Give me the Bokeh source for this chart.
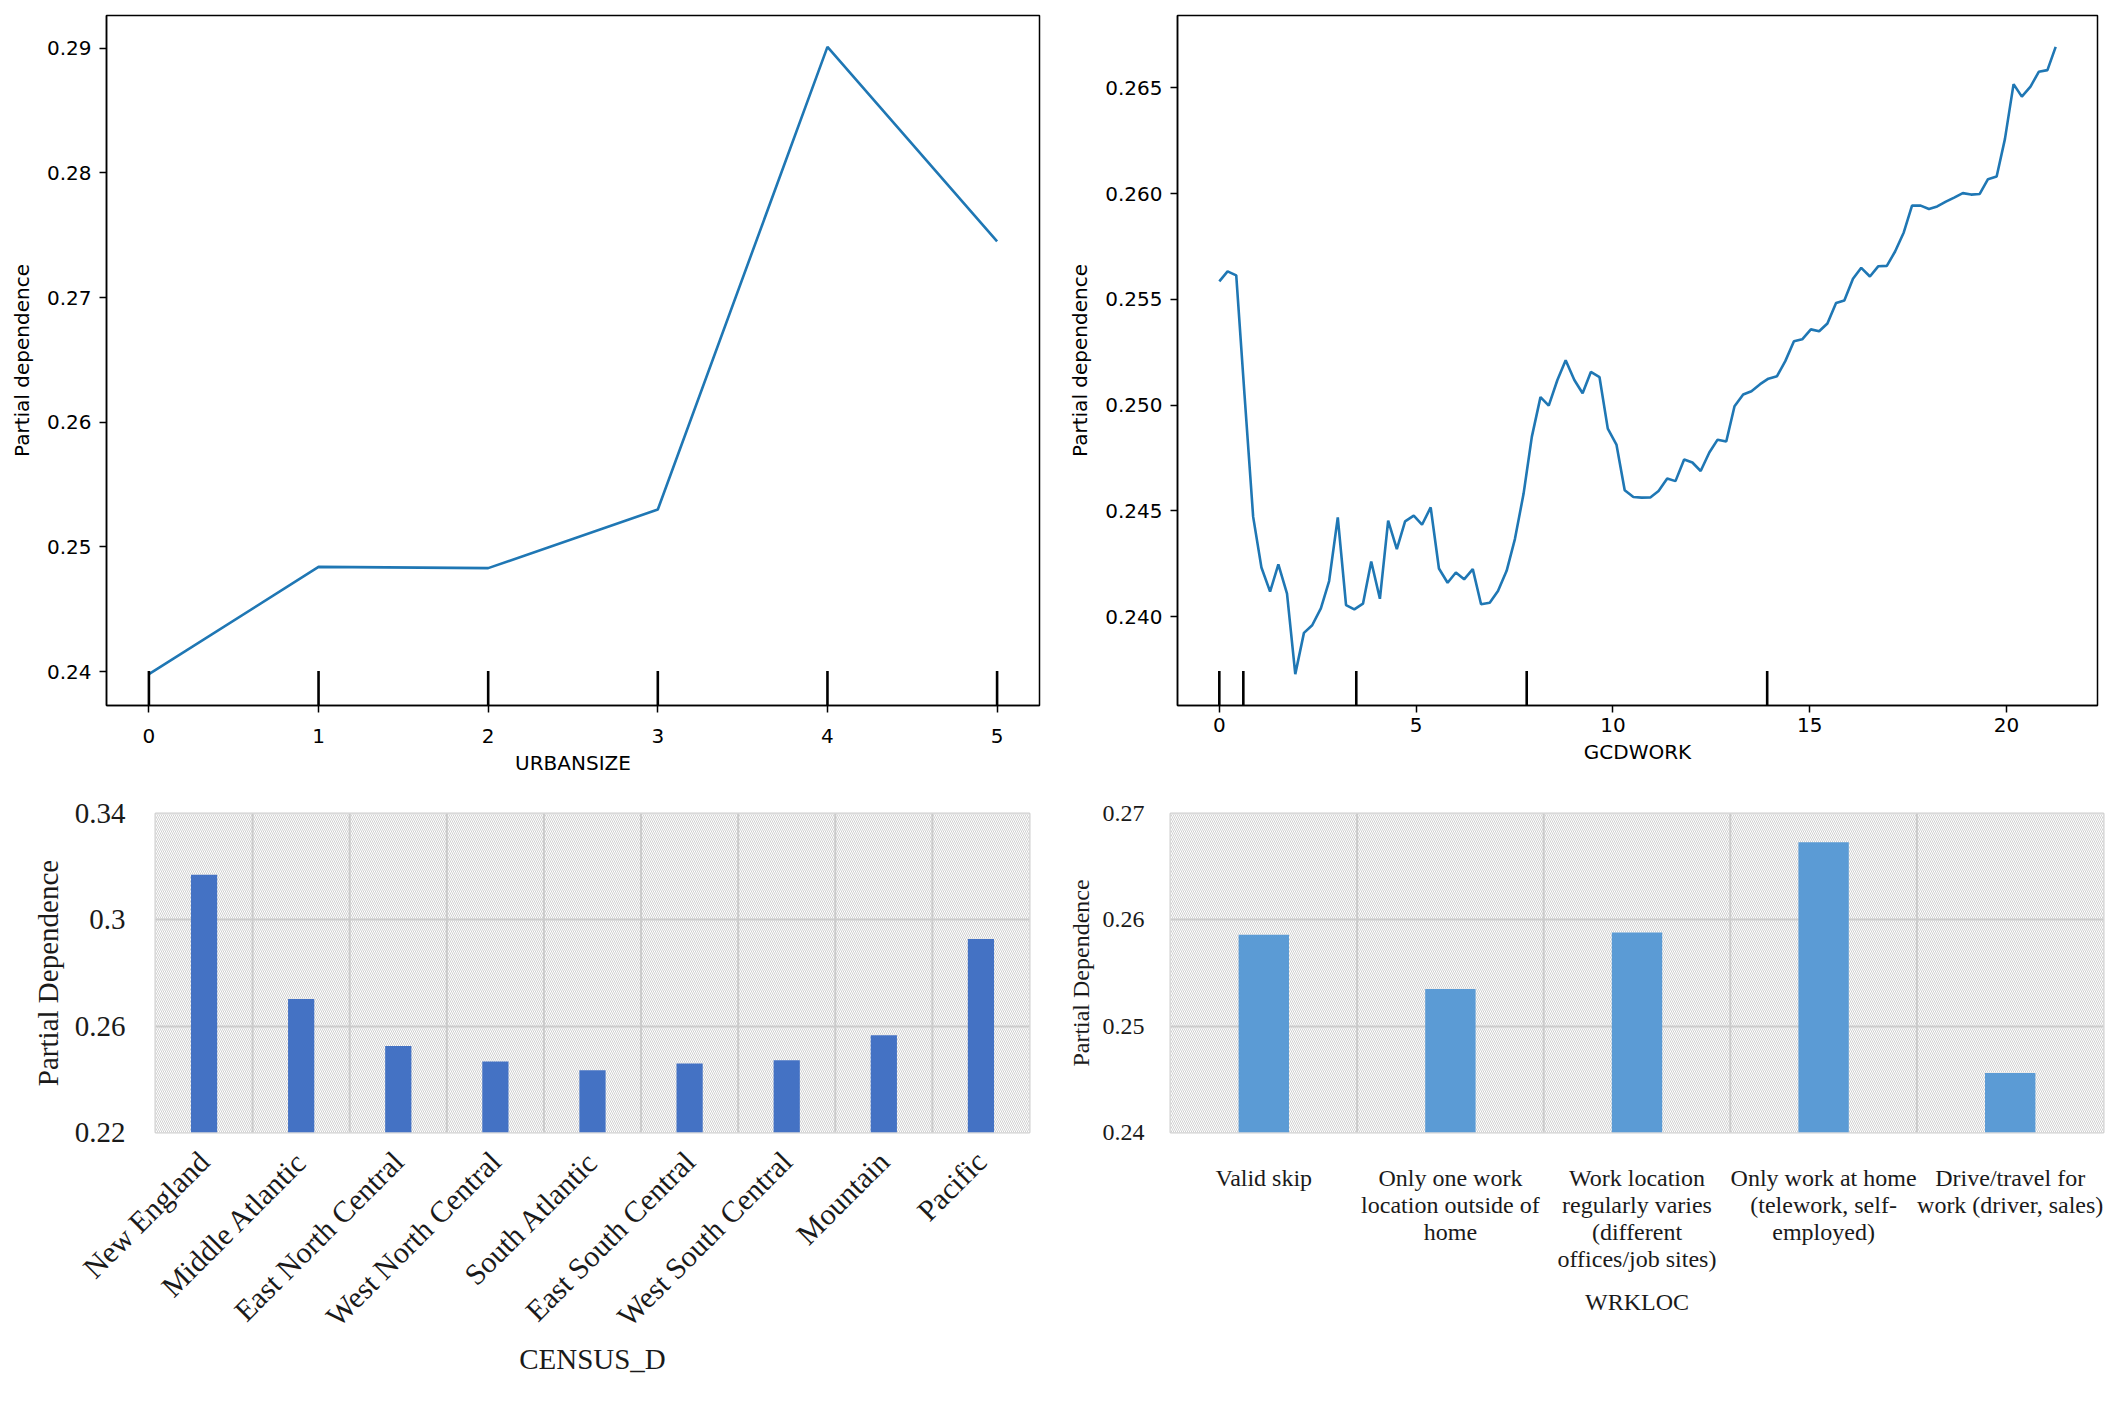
import math

from bokeh.embed import file_html
from bokeh.layouts import column, row
from bokeh.models import (BoxAnnotation, FactorRange, FixedTicker,
                          NumeralTickFormatter, Range1d, Span)
from bokeh.plotting import figure
from bokeh.resources import INLINE

# ---- partial dependence on URBANSIZE ----
urbansize_x = [0, 1, 2, 3, 4, 5]
urbansize_pd = [0.2398, 0.2484, 0.2483, 0.2530, 0.2901, 0.2745]
urbansize_deciles = [0, 1, 2, 3, 4, 5]

# ---- partial dependence on GCDWORK (100-point grid) ----
gcdwork_x = [
    0.00, 0.21, 0.43, 0.64, 0.86, 1.07, 1.29, 1.50, 1.72, 1.93,
    2.15, 2.36, 2.58, 2.79, 3.01, 3.22, 3.43, 3.65, 3.86, 4.08,
    4.29, 4.51, 4.72, 4.94, 5.15, 5.37, 5.58, 5.80, 6.01, 6.22,
    6.44, 6.65, 6.87, 7.08, 7.30, 7.51, 7.73, 7.94, 8.16, 8.37,
    8.59, 8.80, 9.02, 9.23, 9.44, 9.66, 9.87, 10.09, 10.30, 10.52,
    10.73, 10.95, 11.16, 11.38, 11.59, 11.81, 12.02, 12.23, 12.45, 12.66,
    12.88, 13.09, 13.31, 13.52, 13.74, 13.95, 14.17, 14.38, 14.60, 14.81,
    15.03, 15.24, 15.45, 15.67, 15.88, 16.10, 16.31, 16.53, 16.74, 16.96,
    17.17, 17.39, 17.60, 17.82, 18.03, 18.24, 18.46, 18.67, 18.89, 19.10,
    19.32, 19.53, 19.75, 19.96, 20.18, 20.39, 20.61, 20.82, 21.04, 21.25,
]
gcdwork_pd = [
    0.25585, 0.25632, 0.25613, 0.25050, 0.24472, 0.24233, 0.24119, 0.24248, 0.24109, 0.23729,
    0.23924, 0.23960, 0.24040, 0.24169, 0.24470, 0.24055, 0.24035, 0.24062, 0.24261, 0.24085,
    0.24454, 0.24320, 0.24451, 0.24478, 0.24435, 0.24517, 0.24228, 0.24161, 0.24209, 0.24177,
    0.24225, 0.24059, 0.24066, 0.24122, 0.24217, 0.24367, 0.24581, 0.24850, 0.25038, 0.24998,
    0.25119, 0.25212, 0.25119, 0.25056, 0.25157, 0.25132, 0.24889, 0.24814, 0.24598, 0.24566,
    0.24563, 0.24564, 0.24594, 0.24653, 0.24641, 0.24743, 0.24729, 0.24689, 0.24776, 0.24837,
    0.24828, 0.24995, 0.25050, 0.25066, 0.25099, 0.25125, 0.25137, 0.25208, 0.25302, 0.25311,
    0.25358, 0.25349, 0.25386, 0.25483, 0.25495, 0.25597, 0.25649, 0.25608, 0.25656, 0.25658,
    0.25726, 0.25816, 0.25943, 0.25943, 0.25927, 0.25939, 0.25962, 0.25981, 0.26002, 0.25995,
    0.25998, 0.26068, 0.26080, 0.26257, 0.26517, 0.26458, 0.26505, 0.26575, 0.26583, 0.26693,
]
gcdwork_deciles = [0.0, 0.61, 3.48, 7.81, 13.92]

# ---- partial dependence on census division ----
census_divisions = [
    "New England", "Middle Atlantic", "East North Central", "West North Central",
    "South Atlantic", "East South Central", "West South Central", "Mountain", "Pacific",
]
census_pd = [0.3170, 0.2702, 0.2525, 0.2467, 0.2434, 0.2460, 0.2472, 0.2566, 0.2928]

# ---- partial dependence on work location ----
wrkloc_labels = [
    "Valid skip",
    "Only one work\nlocation outside of\nhome",
    "Work location\nregularly varies\n(different\noffices/job sites)",
    "Only work at home\n(telework, self-\nemployed)",
    "Drive/travel for\nwork (driver, sales)",
]
wrkloc_pd = [0.2586, 0.2535, 0.2588, 0.2673, 0.2456]

MPL_BLUE = "#1f77b4"
SANS = "DejaVu Sans"
SERIF = "Liberation Serif"


def padded(lo, hi, frac=0.05):
    span = hi - lo
    return lo - frac * span, hi + frac * span


def style_line_axes(p):
    for ax in (p.xaxis[0], p.yaxis[0]):
        ax.axis_line_color = "black"
        ax.axis_line_width = 1.5
        ax.major_tick_line_color = "black"
        ax.major_tick_line_width = 1.5
        ax.major_tick_out = 7
        ax.major_tick_in = 0
        ax.minor_tick_line_color = None
        ax.major_label_text_font = SANS
        ax.major_label_text_font_size = "20px"
        ax.major_label_text_color = "black"
        ax.axis_label_text_font = SANS
        ax.axis_label_text_font_size = "20px"
        ax.axis_label_text_font_style = "normal"
        ax.axis_label_text_color = "black"
    p.yaxis[0].major_label_standoff = 8
    p.yaxis[0].axis_label_standoff = 10
    p.outline_line_color = "black"
    p.outline_line_width = 1.5
    p.xgrid.visible = False
    p.ygrid.visible = False
    p.background_fill_color = "white"
    p.border_fill_color = "white"


def pd_line_panel(x, y, deciles, xlabel, xticks, yticks, yfmt, width, height, borders):
    xlo, xhi = padded(min(x), max(x))
    ylo, yhi = padded(min(y), max(y))
    left, right, top, bottom = borders
    p = figure(width=width, height=height, x_range=Range1d(xlo, xhi), y_range=Range1d(ylo, yhi),
               output_backend="svg", toolbar_location=None,
               min_border_left=left, min_border_right=right,
               min_border_top=top, min_border_bottom=bottom)
    p.line(x, y, line_color=MPL_BLUE, line_width=2.6)
    # decile rug along the bottom 5% of the axes
    rug_top = ylo + 0.05 * (yhi - ylo)
    p.segment(x0=deciles, x1=deciles, y0=[ylo] * len(deciles), y1=[rug_top] * len(deciles),
              line_color="black", line_width=2.6)
    style_line_axes(p)
    p.xaxis[0].ticker = FixedTicker(ticks=xticks)
    p.yaxis[0].ticker = FixedTicker(ticks=yticks)
    p.yaxis[0].formatter = NumeralTickFormatter(format=yfmt)
    p.xaxis[0].axis_label = xlabel
    p.yaxis[0].axis_label = "Partial dependence"
    return p


def style_bar_panel(p, tick_size, label_size):
    p.background_fill_color = "white"
    p.border_fill_color = "white"
    p.outline_line_color = "#cfcfcf"
    p.outline_line_width = 2
    hatch = BoxAnnotation(fill_color="white", fill_alpha=1.0, line_color=None,
                          hatch_pattern="\\", hatch_color="#d0d0d0", hatch_weight=1,
                          hatch_scale=4, level="image")
    p.add_layout(hatch)
    p.xgrid.visible = False
    p.ygrid.grid_line_color = "#cbcbcb"
    p.ygrid.grid_line_width = 2
    for ax in (p.xaxis[0], p.yaxis[0]):
        ax.axis_line_color = None
        ax.major_tick_line_color = None
        ax.minor_tick_line_color = None
        ax.major_label_text_font = SERIF
        ax.major_label_text_font_size = tick_size
        ax.major_label_text_color = "#1a1a1a"
        ax.axis_label_text_font = SERIF
        ax.axis_label_text_font_size = label_size
        ax.axis_label_text_font_style = "normal"
        ax.axis_label_text_color = "#1a1a1a"


def category_dividers(p, n):
    for k in range(1, n):
        p.add_layout(Span(location=k, dimension="height", line_color="#cbcbcb",
                          line_width=2, level="underlay"))


# top-left: URBANSIZE
p1 = pd_line_panel(urbansize_x, urbansize_pd, urbansize_deciles, "URBANSIZE",
                   [0, 1, 2, 3, 4, 5], [0.24, 0.25, 0.26, 0.27, 0.28, 0.29], "0.00",
                   1060, 780, (106, 21, 15, 69))
p1.xaxis[0].major_label_standoff = 16
p1.xaxis[0].axis_label_standoff = 5

# top-right: GCDWORK
p2 = pd_line_panel(gcdwork_x, gcdwork_pd, gcdwork_deciles, "GCDWORK",
                   [0, 5, 10, 15, 20], [0.240, 0.245, 0.250, 0.255, 0.260, 0.265], "0.000",
                   1057, 780, (117, 20, 15, 75))
p2.xaxis[0].major_label_standoff = 5
p2.xaxis[0].axis_label_standoff = 5

# bottom-left: CENSUS_D bars
p3 = figure(width=1060, height=621, x_range=FactorRange(*census_divisions),
            y_range=Range1d(0.22, 0.34), output_backend="svg", toolbar_location=None,
            min_border_left=155, min_border_right=31, min_border_top=33, min_border_bottom=269)
style_bar_panel(p3, "30px", "29px")
p3.yaxis[0].major_label_text_font_size = "29px"
category_dividers(p3, len(census_divisions))
p3.vbar(x=census_divisions, top=census_pd, bottom=0.22, width=0.27,
        fill_color="#4472c4", line_color=None)
p3.yaxis[0].ticker = FixedTicker(ticks=[0.22, 0.26, 0.30, 0.34])
p3.yaxis[0].formatter = NumeralTickFormatter(format="0.[00]")
p3.yaxis[0].major_label_standoff = 24
p3.yaxis[0].axis_label = "Partial Dependence"
p3.yaxis[0].axis_label_standoff = 8
p3.xaxis[0].major_label_orientation = math.pi / 4
p3.xaxis[0].major_label_standoff = 18
p3.xaxis[0].axis_label = "CENSUS_D"
p3.xaxis[0].axis_label_standoff = -4

# bottom-right: WRKLOC bars
p4 = figure(width=1057, height=621, x_range=FactorRange(*wrkloc_labels),
            y_range=Range1d(0.24, 0.27), output_backend="svg", toolbar_location=None,
            min_border_left=110, min_border_right=14, min_border_top=28, min_border_bottom=251)
style_bar_panel(p4, "24px", "24px")
category_dividers(p4, len(wrkloc_labels))
p4.vbar(x=wrkloc_labels, top=wrkloc_pd, bottom=0.24, width=0.27,
        fill_color="#5b9bd5", line_color=None)
p4.yaxis[0].ticker = FixedTicker(ticks=[0.24, 0.25, 0.26, 0.27])
p4.yaxis[0].formatter = NumeralTickFormatter(format="0.00")
p4.yaxis[0].major_label_standoff = 20
p4.yaxis[0].axis_label = "Partial Dependence"
p4.yaxis[0].axis_label_standoff = 6
p4.xaxis[0].major_label_standoff = 26
p4.xaxis[0].major_label_text_line_height = 1.05
p4.xaxis[0].axis_label = "WRKLOC"
p4.xaxis[0].axis_label_standoff = 14

layout = column(row(p1, p2), row(p3, p4))

with open("out.html", "w") as f:
    f.write(file_html(layout, INLINE))
